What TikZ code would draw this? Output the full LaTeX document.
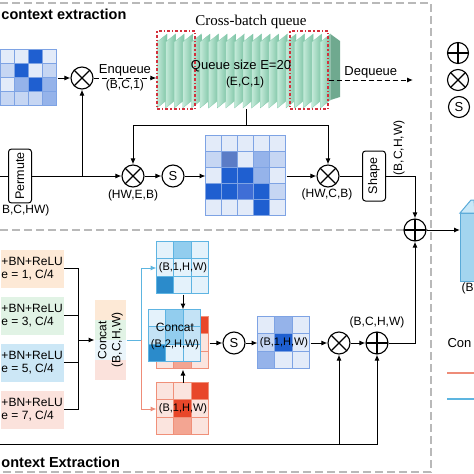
\documentclass[tikz,border=0pt]{standalone}
\usepackage{fontspec}
\setmainfont{Liberation Sans}
\newfontfamily\timesfont{Liberation Serif}
\usepackage{tikz}
\usetikzlibrary{arrows.meta, positioning, calc}

\definecolor{rL}{HTML}{E3EBF9}
\definecolor{rK}{HTML}{C6D6F3}
\definecolor{rM}{HTML}{95B3EA}
\definecolor{rS}{HTML}{5B7CC6}
\definecolor{rE}{HTML}{3F6ED6}
\definecolor{rD}{HTML}{1F5FD0}
\definecolor{rGrid}{HTML}{7EA3E4}
\definecolor{sL}{HTML}{E4F2FB}
\definecolor{sK}{HTML}{C4E3F6}
\definecolor{sM}{HTML}{92CDEE}
\definecolor{sD}{HTML}{2B8BCB}
\definecolor{sGrid}{HTML}{5EB4E2}
\definecolor{pL}{HTML}{FBE4DE}
\definecolor{pM}{HTML}{F3A592}
\definecolor{pD}{HTML}{E8472A}
\definecolor{pGrid}{HTML}{F09079}
\definecolor{qLight}{HTML}{C4EAD9}
\definecolor{qDark}{HTML}{7CC3A4}
\definecolor{qEdge}{HTML}{8ACDB0}
\definecolor{qSide}{HTML}{6FA98F}
\definecolor{qRed}{HTML}{D3303C}
\definecolor{bPeach}{HTML}{FDE9D6}
\definecolor{bMint}{HTML}{E1F3E5}
\definecolor{bBlue}{HTML}{CCE7F6}
\definecolor{bPink}{HTML}{FBE2DC}
\definecolor{cBlue}{HTML}{EAF5FB}
\definecolor{skyline}{HTML}{5DB5E0}
\definecolor{salmon}{HTML}{EE8C78}
\definecolor{cubeFront}{HTML}{A3D5EF}
\definecolor{cubeTop}{HTML}{C9E8F8}
\definecolor{cubeEdge}{HTML}{5AAAD8}

\tikzstyle{opcirc} = [circle, draw, line width=1.1pt, minimum size=22, inner sep=0pt]
\tikzstyle{mulop} = [opcirc, path picture={\draw[line width=1.1pt] (path picture bounding box.north west) -- (path picture bounding box.south east) (path picture bounding box.north east) -- (path picture bounding box.south west);}]
\tikzstyle{addop} = [opcirc, path picture={\draw[line width=1.1pt] (path picture bounding box.north) -- (path picture bounding box.south) (path picture bounding box.west) -- (path picture bounding box.east);}]
\tikzstyle{sigop} = [opcirc, font=\fontsize{13}{13}\selectfont]
\tikzstyle{lbl} = [font=\fontsize{13}{15}\selectfont, inner sep=1pt]
\tikzstyle{dim} = [font=\fontsize{12}{14}\selectfont, inner sep=1pt]
\tikzstyle{mapbox} = [minimum size=52, inner sep=0pt]

\begin{document}
\begin{tikzpicture}[x=1pt, y=-1pt, >={Latex[length=6pt, width=5pt]}, line width=1pt]
            \tikzstyle{tag} = [draw, rounded corners=3pt, line width=1pt, minimum width=50, minimum height=23, rotate=90, font=\fontsize{12.5}{13}\selectfont]
            \tikzstyle{title} = [font=\bfseries\fontsize{14.5}{16}\selectfont, inner sep=0pt, anchor=west]
            \tikzstyle{boxline} = [draw=gray!55, line width=1.6pt, dash pattern=on 8pt off 4pt]
            \tikzstyle{qwin} = [draw=qRed, line width=1.3pt, dash dot, minimum width=38, minimum height=78, inner sep=0pt]
            \tikzstyle{branch} = [anchor=north west, minimum width=62, minimum height=38, align=left, inner sep=1pt, font=\fontsize{12}{13}\selectfont]
            \tikzstyle{cellR} = [draw=rGrid, line width=0.8pt]
            \tikzstyle{cellS} = [draw=sGrid, line width=0.8pt]
            \tikzstyle{cellP} = [draw=pGrid, line width=0.8pt]
            \tikzstyle{celltxt} = [font=\fontsize{11}{12}\selectfont, inner sep=0pt]

            \useasboundingbox (0,0) rectangle (474,474);

            \draw[boxline] (0,3) -- (431,3) -- (431,472) -- (0,472);
            \draw[boxline] (0,230) -- (431,230);
            \node[title] (topTitle) at (1,14) {context extraction};
            \node[title] (botTitle) at (1,462) {ontext Extraction};

            \node[mapbox, minimum size=56] (featMap) at (29,78) {};
            \foreach \r/\cells in {0/{rL,rL,rD,rL},1/{rK,rD,rL,rK},2/{rL,rM,rD,rM},3/{rK,rK,rK,rM}}
                \foreach \c [count=\k from 0] in \cells
                    \draw[cellR, fill=\c] ([shift={(\k*14,\r*14)}]featMap.north west) rectangle ++(14,14);

            \node[minimum width=178, minimum height=76, inner sep=0pt] (queue) at (246,70.5) {};
            \foreach \i in {0,...,19}
                \shade[left color=qLight, right color=qDark, draw=qEdge, line width=0.3pt] (157+\i*8.6,42) -- ++(10,-8) -- ++(0,66) -- ++(-10,8) -- cycle;
            \fill[qSide] (330.4,34) -- (340,41) -- (340,97) -- (330.4,100) -- cycle;
            \node[qwin] (winIn) at (176,70) {};
            \node[qwin] (winOut) at (309,70) {};
            \node[font=\timesfont\fontsize{15}{16}\selectfont] (qTitle) at (251,22) {Cross-batch queue};
            \node[lbl] (qSize) at (241,66) {Queue size E=20};
            \node[dim] (qDim) at (245,82) {(E,C,1)};

            \node[mulop] (mulA) at (82,78) {};
            \coordinate (deqEnd) at (413,80);
            \draw[->, dash pattern=on 5pt off 3pt] (mulA) -- (mulA -| winIn.west) node[lbl, midway, above] (enqTxt) {Enqueue} node[dim, midway, below] (enqDim) {(B,C,1)};
            \draw[->, dash pattern=on 5pt off 3pt] (winOut.east |- deqEnd) -- (deqEnd) node[lbl, midway, above] (deqTxt) {Dequeue};

            \node[addop, minimum size=21] (legAdd) at (458,53) {};
            \node[mulop, minimum size=21] (legMul) at (458,80) {};
            \node[sigop, minimum size=21] (legSig) at (459,107) {S};

            \coordinate (inTop) at (0,176);
            \coordinate (split) at (246,125);
            \node[tag] (permute) at (20,176) {Permute};
            \node[dim, anchor=west] (permDim) at (0.5,210) {B,C,HW)};
            \node[mulop] (mulB) at (133,176) {};
            \node[dim] (mulBDim) at (133,195) {(HW,E,B)};
            \node[sigop] (sigA) at (173,176) {S};
            \node[mapbox, minimum size=80] (attnMap) at (246,176) {};
            \foreach \r/\cells in {0/{rL,rL,rL,rL,rL},1/{rK,rS,rL,rM,rK},2/{rL,rD,rD,rM,rL},3/{rD,rD,rE,rD,rK},4/{rL,rL,rL,rD,rL}}
                \foreach \c [count=\k from 0] in \cells
                    \draw[cellR, fill=\c] ([shift={(\k*16,\r*16)}]attnMap.north west) rectangle ++(16,16);
            \node[mulop] (mulC) at (328,176) {};
            \node[dim] (mulCDim) at (327,194) {(HW,C,B)};
            \node[tag] (shape) at (374,176) {Shape};
            \node[dim, rotate=90] (shapeDim) at (399,148) {(B,C,H,W)};
            \node[addop] (addOut) at (415,230) {};

            \node[draw=cubeEdge, fill=cubeFront, minimum width=14, minimum height=68, inner sep=0pt, anchor=north west] (cube) at (460,213) {};
            \filldraw[fill=cubeTop, draw=cubeEdge] (cube.north west) -- (471,200) -- (474,200) -- (cube.north east) -- cycle;
            \node[dim, anchor=west] (cubeDim) at (460,288) {(B};

            \draw (inTop) -- (permute);
            \draw[->] (permute) -- (mulB);
            \draw[->] (permute -| mulA) -- (mulA);
            \draw[->] (featMap) -- (mulA);
            \draw (queue) -- (split);
            \draw[->] (split) -| (mulB);
            \draw[->] (split) -| (mulC);
            \draw[->] (mulB) -- (sigA);
            \draw[->] (sigA) -- (attnMap);
            \draw[->] (attnMap) -- (mulC);
            \draw (mulC) -- (shape);
            \draw[->] (shape) -| (addOut);
            \draw[->] (addOut) -- (addOut -| cube.west);

            \node[branch, fill=bPeach] (br1) at (0,249) {+BN+ReLU\\e = 1, C/4};
            \node[branch, fill=bMint] (br2) at (0,296) {+BN+ReLU\\e = 3, C/4};
            \node[branch, fill=bBlue] (br3) at (0,343) {+BN+ReLU\\e = 5, C/4};
            \node[branch, fill=bPink] (br4) at (0,390) {+BN+ReLU\\e = 7, C/4};
            \coordinate (joint) at (78,340);
            \draw (br1) -| (joint);
            \draw (br2) -| (joint);
            \draw (br3) -| (joint);
            \draw (br4) -| (joint);

            \fill[bPeach] (95,300) rectangle (126,320);
            \fill[bMint] (95,320) rectangle (126,340);
            \fill[cBlue] (95,340) rectangle (126,360);
            \fill[bPink] (95,360) rectangle (126,380);
            \node[rotate=90, minimum width=80, minimum height=31, align=center, inner sep=0pt, font=\fontsize{12}{14}\selectfont] (catBox) at (110.5,340) {Concat\\(B,C,H,W)};
            \draw[->] (joint) -- (catBox);

            \node[mapbox] (mapT) at (183,268) {};
            \node[mapbox] (mapCatR) at (183,343) {};
            \node[mapbox] (mapCat) at (175,336) {};
            \node[mapbox] (mapR) at (183,409) {};
            \node[mapbox] (mapS) at (284,343) {};
            \foreach \r/\cells in {0/{sL,sM,sL},1/{sL,sL,sL},2/{sD,sL,sL}}
                \foreach \c [count=\k from 0] in \cells
                    \draw[cellS, fill=\c] ([shift={(\k*52/3,\r*52/3)}]mapT.north west) rectangle ++(52/3,52/3);
            \foreach \r/\cells in {0/{pL,pL,pD},1/{pL,pL,pL},2/{pL,pM,pL}}
                \foreach \c [count=\k from 0] in \cells
                    \draw[cellP, fill=\c] ([shift={(\k*52/3,\r*52/3)}]mapCatR.north west) rectangle ++(52/3,52/3);
            \foreach \r/\cells in {0/{sL,sM,sK},1/{sK,sM,sK},2/{sD,sL,sL}}
                \foreach \c [count=\k from 0] in \cells
                    \draw[cellS, fill=\c] ([shift={(\k*52/3,\r*52/3)}]mapCat.north west) rectangle ++(52/3,52/3);
            \foreach \r/\cells in {0/{pL,pL,pD},1/{pL,pD,pL},2/{pL,pM,pL}}
                \foreach \c [count=\k from 0] in \cells
                    \draw[cellP, fill=\c] ([shift={(\k*52/3,\r*52/3)}]mapR.north west) rectangle ++(52/3,52/3);
            \foreach \r/\cells in {0/{rL,rM,rL},1/{rK,rD,rL},2/{rM,rL,rL}}
                \foreach \c [count=\k from 0] in \cells
                    \draw[cellR, fill=\c] ([shift={(\k*52/3,\r*52/3)}]mapS.north west) rectangle ++(52/3,52/3);
            \node[celltxt] (mapTTxt) at (mapT) {(B,1,H,W)};
            \node[celltxt, font=\fontsize{12}{12}\selectfont] (catTxtA) at (175,327) {Concat};
            \node[celltxt] (catTxtB) at (175,345) {(B,2,H,W)};
            \node[celltxt] (mapRTxt) at (mapR) {(B,1,H,W)};
            \node[celltxt] (mapSTxt) at (mapS) {(B,1,H,W)};

            \coordinate (fork) at (141,340);
            \draw[skyline] (catBox) -- (fork);
            \draw[->, skyline] (fork) |- (mapT);
            \draw[->, salmon] (fork) |- (mapR);
            \draw[->] (mapT) -- (mapT |- mapCat.north);
            \draw[->] (mapR) -- (mapCatR);

            \node[sigop] (sigB) at (234,343) {S};
            \node[mulop] (mulD) at (339,343) {};
            \node[addop] (addB) at (377,343) {};
            \node[dim] (addBDim) at (377,322) {(B,C,H,W)};
            \draw[->] (mapCatR) -- (sigB);
            \draw[->] (sigB) -- (mapS);
            \draw[->] (mapS) -- (mulD);
            \draw[->] (mulD) -- (addB);
            \draw[->] (addB) -| (addOut);
            \coordinate (skipIn) at (0,444);
            \draw[->] (skipIn) -| (mulD);
            \draw[->] (skipIn) -| (addB);

            \node[lbl, anchor=west] (legTxt) at (446,343) {Con};
            \coordinate (legRa) at (447,373);
            \coordinate (legRb) at (474,373);
            \coordinate (legBa) at (447,399);
            \coordinate (legBb) at (474,399);
            \draw[salmon, line width=1.3pt] (legRa) -- (legRb);
            \draw[skyline, line width=1.3pt] (legBa) -- (legBb);

        \end{tikzpicture}
\end{document}
